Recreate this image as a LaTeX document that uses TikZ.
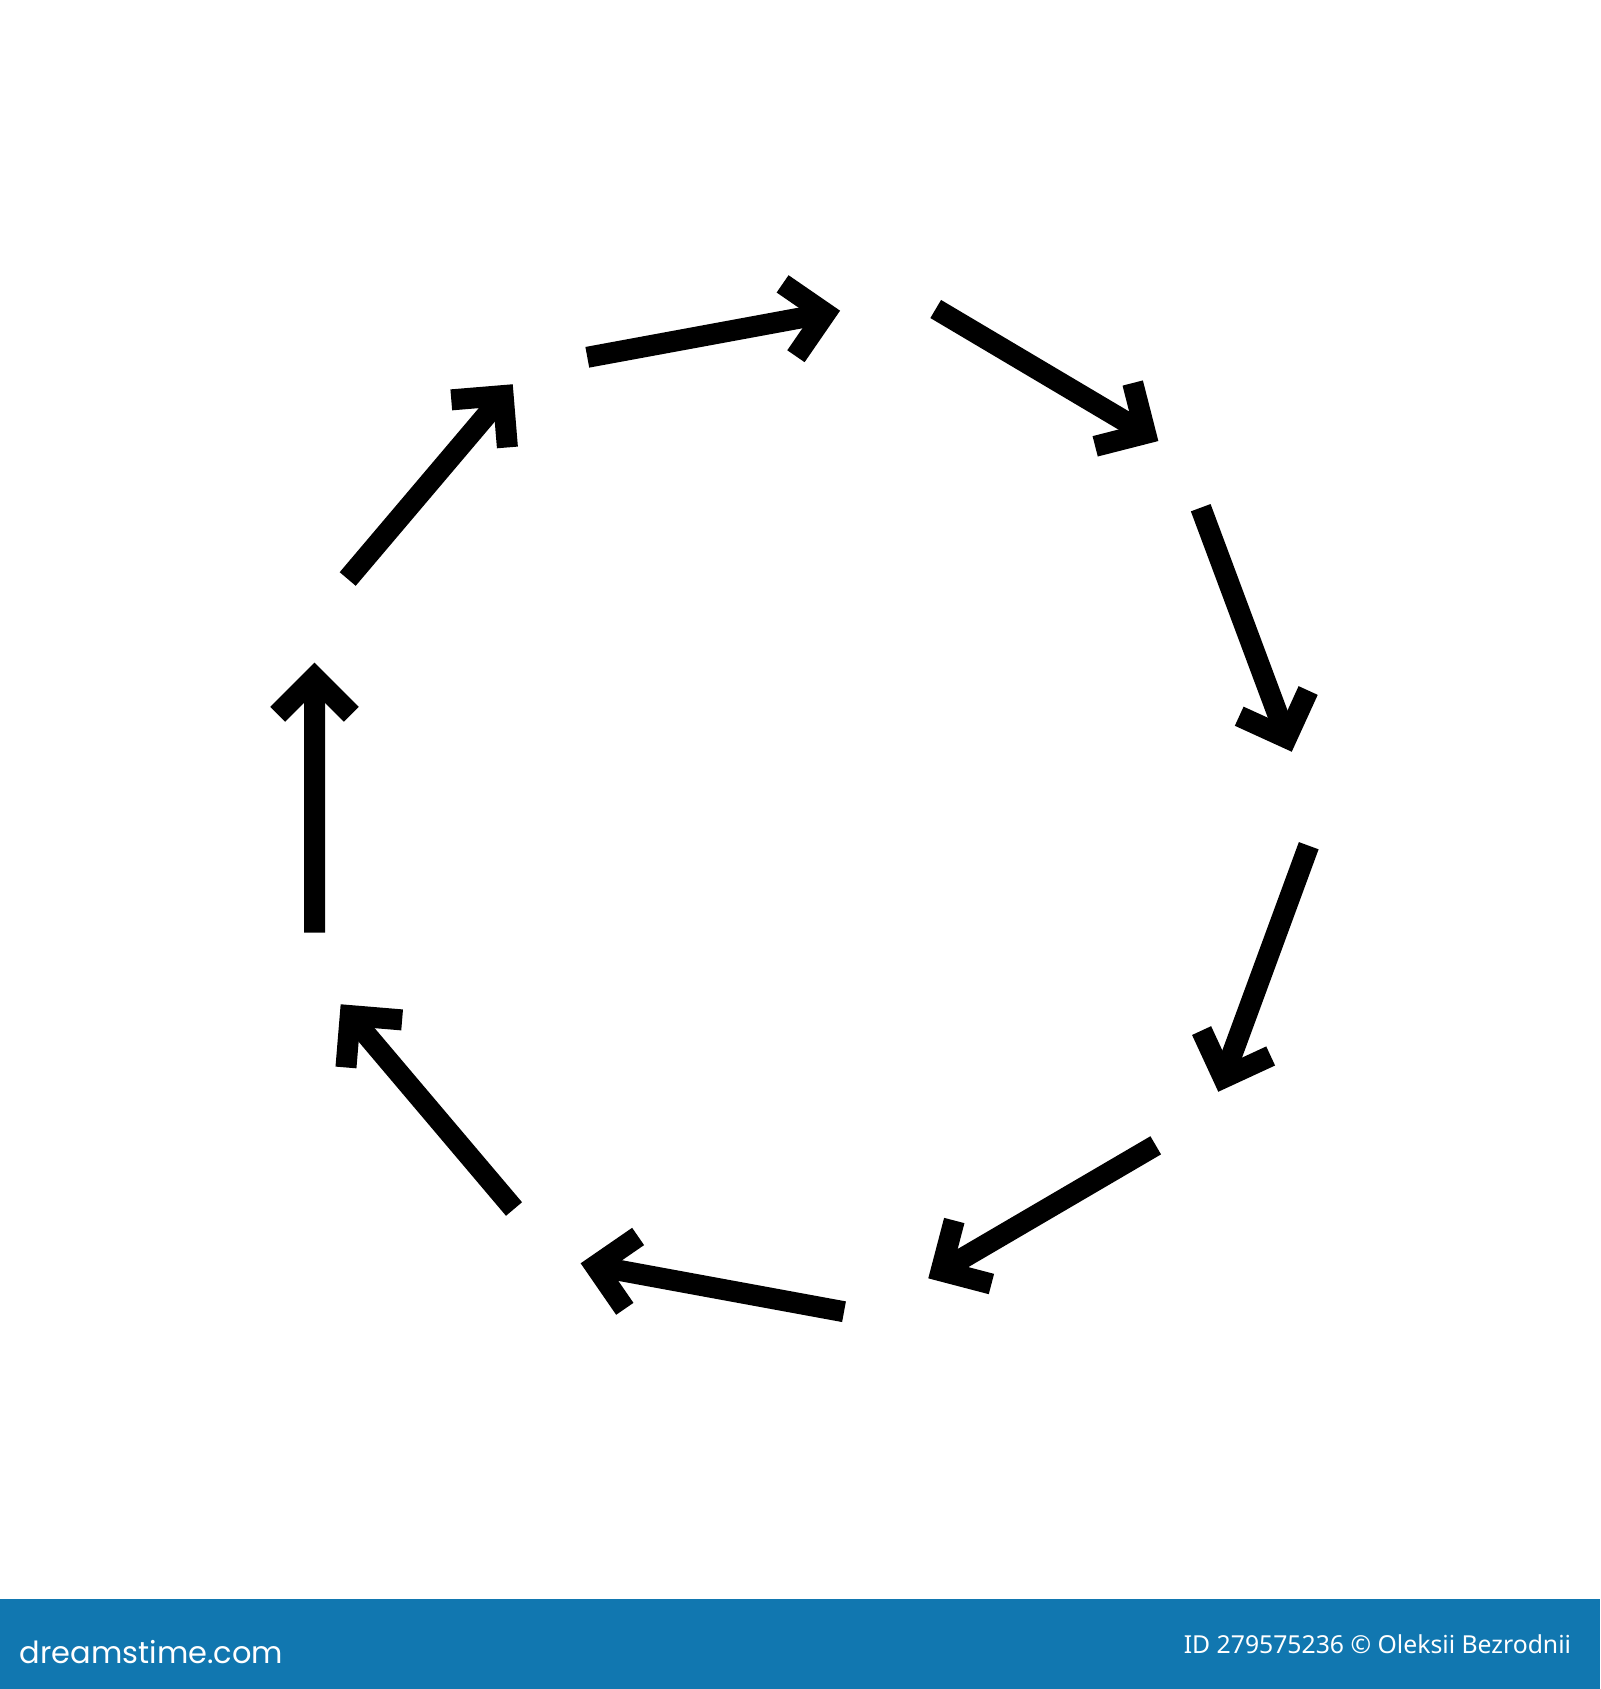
\documentclass[tikz,border=0pt]{standalone}
\usepackage{fontspec}
\usetikzlibrary{calc}
\newfontfamily\logofont{Poppins}
\newfontfamily\creditfont{Noto Sans}
\definecolor{barblue}{RGB}{17,119,176}
\tikzset{
  arrowline/.style={draw=black, line width=0.21cm, line cap=butt, line join=miter},
  footertext/.style={text=white, inner sep=0pt, outer sep=0pt},
}
\newcommand{\circarrow}[2]{%
  \coordinate (#2v) at ($(#2)!0.148cm!(#1)$);
  \draw[arrowline] (#1) -- (#2v);
  \draw[arrowline] ($(#2v)!0.52cm!45:(#1)$) -- (#2v) -- ($(#2v)!0.52cm!-45:(#1)$);
}
\begin{document}
\begin{tikzpicture}[x=0.01cm, y=-0.01cm]
  \fill[white] (0,0) rectangle (1600,1689);
  \useasboundingbox (0,0) rectangle (1600,1689);
  % arrow tails and tips
  \coordinate (t1) at (314.7,932.7);  \coordinate (h1) at (314.5,662.7);
  \coordinate (t2) at (347.7,579);    \coordinate (h2) at (512.7,384.3);
  \coordinate (t3) at (587.3,357.3);  \coordinate (h3) at (840,310.7);
  \coordinate (t4) at (935.7,309);    \coordinate (h4) at (1158.3,441);
  \coordinate (t5) at (1200.7,507.7); \coordinate (h5) at (1291.7,751.7);
  \coordinate (t6) at (1308.7,845.7); \coordinate (h6) at (1218.3,1091.7);
  \coordinate (t7) at (1155.7,1145.3);\coordinate (h7) at (928.3,1278.3);
  \coordinate (t8) at (844,1311.7);   \coordinate (h8) at (580.7,1263.3);
  \coordinate (t9) at (514,1209);     \coordinate (h9) at (340.7,1004.3);
  \circarrow{t1}{h1}
  \circarrow{t2}{h2}
  \circarrow{t3}{h3}
  \circarrow{t4}{h4}
  \circarrow{t5}{h5}
  \circarrow{t6}{h6}
  \circarrow{t7}{h7}
  \circarrow{t8}{h8}
  \circarrow{t9}{h9}
  % footer bar
  \fill[barblue] (0,1599) rectangle (1600,1689);
  \node[footertext, anchor=base west] (logo) at (20,1663)
    {\resizebox{2.63cm}{!}{\logofont dreamstime.com}};
  \node[footertext, anchor=base east] (credit) at (1571,1653)
    {\resizebox{3.87cm}{!}{\creditfont\bfseries ID 279575236 © Oleksii Bezrodnii}};
\end{tikzpicture}
\end{document}
